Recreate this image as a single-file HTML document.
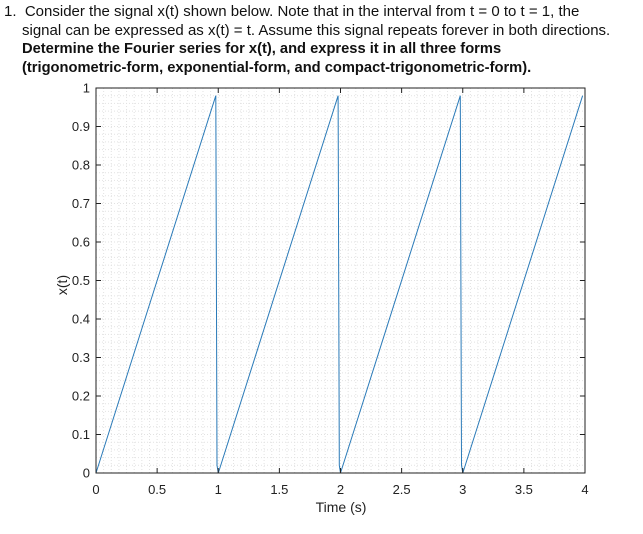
<!DOCTYPE html>
<html><head><meta charset="utf-8"><style>
body{margin:0;width:643px;height:534px;background:#fff;font-family:"Liberation Sans",Arial,sans-serif;overflow:hidden}
#q{position:absolute;left:4px;top:2px;font-size:15px;line-height:19px;color:#111}
#q p{margin:0;white-space:nowrap}
svg{position:absolute;left:0;top:0}
</style></head><body>
<div id="q">
<p>1.&nbsp; Consider the signal x(t) shown below. Note that in the interval from t = 0 to t = 1, the</p>
<p style="padding-left:18px">signal can be expressed as x(t) = t. Assume this signal repeats forever in both directions.</p>
<p style="padding-left:18px;font-weight:bold;font-size:14.7px">Determine the Fourier series for x(t), and express it in all three forms</p>
<p style="padding-left:18px;font-weight:bold;font-size:14.7px">(trigonometric-form, exponential-form, and compact-trigonometric-form).</p>
</div>
<svg id="c" width="643" height="534"></svg>
<script>
const xTicks=[0,0.5,1,1.5,2,2.5,3,3.5,4];
const xTickLabels=["0","0.5","1","1.5","2","2.5","3","3.5","4"];
const yTicks=[0,0.1,0.2,0.3,0.4,0.5,0.6,0.7,0.8,0.9,1];
const yTickLabels=["0","0.1","0.2","0.3","0.4","0.5","0.6","0.7","0.8","0.9","1"];
const sigT=[0,0.98,0.99,1,1.98,1.99,2,2.98,2.99,3,3.98];
const sigX=[0,0.98,0.02,0,0.98,0.02,0,0.98,0.02,0,0.98];
const L=96,R=585,T=88,B=473;
const sx=v=>L+v/4*(R-L), sy=v=>B-v*(B-T);
const svg=document.getElementById('c');const NS='http://www.w3.org/2000/svg';
function mk(t,a,p){const e=document.createElementNS(NS,t);for(const k in a)e.setAttribute(k,a[k]);(p||svg).appendChild(e);return e;}
const g=mk('g',{});


for(let i=1;i<64;i++){const x=sx(i*0.0625);mk('line',{x1:x,x2:x,y1:T,y2:B,stroke:'#e2e2e2','stroke-dasharray':'1,2','stroke-width':1},g);}
for(let i=1;i<50;i++){const y=sy(i*0.02);mk('line',{x1:L,x2:R,y1:y,y2:y,stroke:'#e2e2e2','stroke-dasharray':'1,2','stroke-width':1},g);}
let d='';sigT.forEach((t,i)=>{d+=(i?'L':'M')+sx(t).toFixed(1)+','+sy(sigX[i]).toFixed(1);});
const ln=mk('path',{d:d,fill:'none',stroke:'#2a7ab8','stroke-width':1});


const box=mk('rect',{x:L,y:T,width:R-L,height:B-T,fill:'none',stroke:'#222','stroke-width':1});


xTicks.forEach((v,i)=>{const x=sx(v);
mk('line',{x1:x,x2:x,y1:B,y2:B-5,stroke:'#222'});mk('line',{x1:x,x2:x,y1:T,y2:T+5,stroke:'#222'});
const t=mk('text',{x:x,y:B+21,'text-anchor':'middle','font-size':13,fill:'#222'});t.textContent=xTickLabels[i];

});
yTicks.forEach((v,i)=>{const y=sy(v);
mk('line',{x1:L,x2:L+5,y1:y,y2:y,stroke:'#222'});mk('line',{x1:R,x2:R-5,y1:y,y2:y,stroke:'#222'});
const t=mk('text',{x:L-6,y:y+4.5,'text-anchor':'end','font-size':13,fill:'#222'});t.textContent=yTickLabels[i];

});
const xl=mk('text',{x:341,y:512,'text-anchor':'middle','font-size':14,fill:'#222'});xl.textContent='Time (s)';


const yl=mk('text',{x:0,y:0,'text-anchor':'middle','font-size':14,fill:'#222',transform:'translate(67,285) rotate(-90)'});yl.textContent='x(t)';


</script>
</body></html>
